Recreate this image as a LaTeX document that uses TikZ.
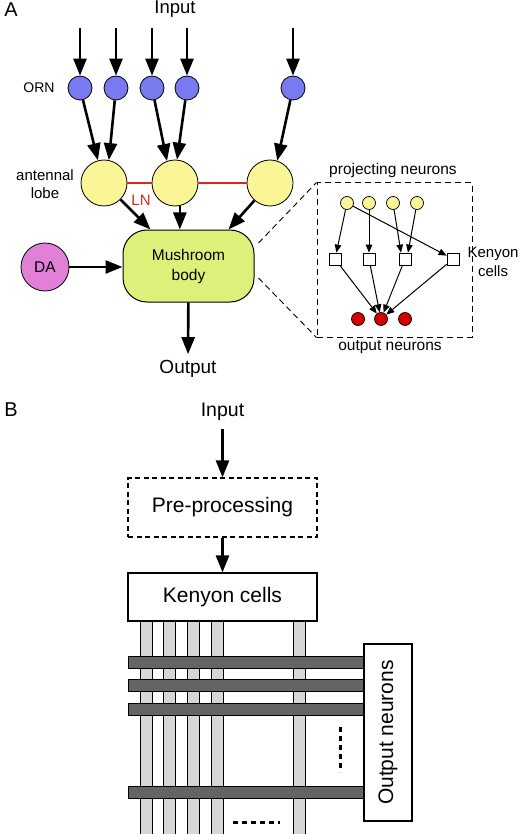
\documentclass[tikz,border=0pt]{standalone}
\usepackage{fontspec}
\setmainfont{Liberation Sans}
\usepackage{xcolor}
\usepackage{tikz}
\usetikzlibrary{shapes,arrows.meta,positioning,calc}

\definecolor{ornblue}{RGB}{122,122,240}
\definecolor{lobeyellow}{RGB}{250,245,150}
\definecolor{mbgreen}{RGB}{221,240,122}
\definecolor{dapink}{RGB}{226,128,216}
\definecolor{outred}{RGB}{210,0,0}
\definecolor{lnred}{RGB}{225,35,30}
\definecolor{kcgray}{RGB}{214,214,214}
\definecolor{ongray}{RGB}{100,100,100}

\newcommand{\fsz}[2]{\fontsize{#1}{#2}\selectfont}

\begin{document}
\begin{tikzpicture}[x=1pt, y=-1pt, >={Triangle[length=17pt,width=13pt]},
  every node/.style={inner sep=2pt},
  arr/.style={->, line width=2.6pt},
  thinarr/.style={-{Triangle[length=8pt,width=6.5pt]}, line width=1pt},
  ornnode/.style={circle, draw, line width=0.8pt, fill=ornblue, minimum size=24pt, inner sep=0pt},
  lobenode/.style={circle, draw, line width=0.8pt, fill=lobeyellow, minimum size=46pt, inner sep=0pt},
  pnnode/.style={circle, draw, line width=0.7pt, fill=lobeyellow, minimum size=13pt, inner sep=0pt},
  kcnode/.style={rectangle, draw, line width=0.7pt, fill=white, minimum size=12pt, inner sep=0pt},
  outnode/.style={circle, draw, line width=0.7pt, fill=outred, minimum size=13pt, inner sep=0pt},
  bigbox/.style={rectangle, draw, line width=1.2pt, fill=white, minimum width=189pt, font=\fsz{21}{25}},
  kcbar/.style={draw, line width=0.8pt, fill=kcgray},
  onbar/.style={draw, line width=0.8pt, fill=ongray},
  ellipsis/.style={line width=3pt, dash pattern=on 5pt off 4pt}]

\useasboundingbox (0,0) rectangle (520,834);

%% Panel A
\node[font=\fsz{20}{24}] (labA) at (11,10) {A};
\node[font=\fsz{18.5}{22}] (inA) at (175,9) {Input};

% ORN layer
\foreach \x [count=\i] in {80,116,152,187,293} {
  \node[ornnode] (orn-\i) at (\x,88) {};
  \coordinate (in-\i) at (\x,28);
  \draw[arr] (in-\i) -- (orn-\i);
}
\node[font=\fsz{14}{17}] (ornlabel) at (39,88) {ORN};

% Antennal lobe
\foreach \x [count=\i] in {104,175,270}
  \node[lobenode] (lobe-\i) at (\x,183) {};
\node[font=\fsz{15}{18}, align=center] (lobelabel) at (45,184) {antennal\\lobe};

\draw[arr] (orn-1) -- (lobe-1.105);
\draw[arr] (orn-2) -- (lobe-1.78);
\draw[arr] (orn-3) -- (lobe-2.110);
\draw[arr] (orn-4) -- (lobe-2.85);
\draw[arr] (orn-5) -- (lobe-3.72);

% LN connections
\draw[lnred, line width=2.3pt] (lobe-1) -- (lobe-2);
\draw[lnred, line width=2.3pt] (lobe-2) -- (lobe-3);
\node[font=\fsz{15}{18}, text=lnred] (lnlabel) at (141,200) {LN};

% Mushroom body
\node[draw, line width=1pt, fill=mbgreen, rounded corners=24pt, minimum width=131pt,
  minimum height=72pt, align=center, font=\fsz{15.5}{20}] (mb) at (188.5,266) {Mushroom\\body};

\draw[arr] (lobe-1) -- ($(mb.north)+(-38,0)$);
\draw[arr] (lobe-2.-78) -- (lobe-2.-78 |- mb.north);
\draw[arr] (lobe-3) -- ($(mb.north)+(40,0)$);

% DA
\node[circle, draw, line width=0.8pt, fill=dapink, minimum size=48pt, inner sep=0pt,
  font=\fsz{15.5}{18}] (da) at (45,267) {DA};
\draw[arr] (da) -- (da -| mb.west);

% Output
\node[font=\fsz{19}{23}] (outA) at (188,369) {Output};
\draw[arr, shorten >=4pt] (mb) -- (outA);

% Inset
\node[draw, line width=1pt, dash pattern=on 6pt off 4pt, minimum width=155pt,
  minimum height=154pt] (kcbox) at (394.5,260) {};
\draw[line width=0.9pt, dash pattern=on 6pt off 4pt] ($(mb.east)+(4,-23)$) -- (kcbox.north west);
\draw[line width=0.9pt, dash pattern=on 6pt off 4pt] ($(mb.east)+(4,12)$) -- (kcbox.south west);
\node[font=\fsz{15.5}{19}] (pnlabel) at (393,170) {projecting neurons};
\node[font=\fsz{15.5}{19}] (onlabel) at (390,347) {output neurons};
\node[font=\fsz{15}{19}, align=center] (kclabel) at (493,262) {Kenyon\\cells};

\foreach \x [count=\i] in {347,369,393,417}
  \node[pnnode] (pn-\i) at (\x,203) {};
\foreach \x [count=\i] in {335,369,405,453}
  \node[kcnode] (kc-\i) at (\x,259) {};
\foreach \x [count=\i] in {358,381,405}
  \node[outnode] (on-\i) at (\x,319) {};

\draw[thinarr] (pn-1) -- (kc-1);
\draw[thinarr] (pn-1) -- (kc-4);
\draw[thinarr] (pn-2) -- (kc-2);
\draw[thinarr] (pn-3) -- ($(kc-3.north)+(-4,0)$);
\draw[thinarr] (pn-4) -- ($(kc-3.north)+(3,0)$);
\foreach \i in {1,...,4}
  \draw[thinarr] (kc-\i) -- (on-2);

%% Panel B
\node[font=\fsz{20}{24}] (labB) at (11,410) {B};
\node[font=\fsz{19.5}{23}] (inB) at (222.5,412) {Input};
\node[bigbox, dash pattern=on 5pt off 3.5pt, minimum height=59pt] (pre) at (222.5,507.5) {Pre-processing};
\node[bigbox, minimum height=48pt] (kcb) at (222.5,597) {Kenyon cells};

\draw[arr, shorten <=6pt] (inB) -- (pre);
\draw[arr] (pre) -- (kcb);

% Kenyon cell axons
\foreach \x in {146,169,193,217,299}
  \draw[kcbar] (\x-6,621) rectangle (\x+6,840);

% Output neuron dendrites
\foreach \y in {662,685,709,792}
  \draw[onbar] (128,\y-6) rectangle (364,\y+6);

\node[rectangle, draw, line width=1.2pt, fill=white, rotate=90, minimum width=177pt,
  minimum height=48pt, font=\fsz{21}{25}] (onb) at (388,732.5) {Output neurons};

\draw[ellipsis] (340,727) -- (340,772);
\draw[ellipsis] (233,822) -- (280,822);
\end{tikzpicture}
\end{document}
